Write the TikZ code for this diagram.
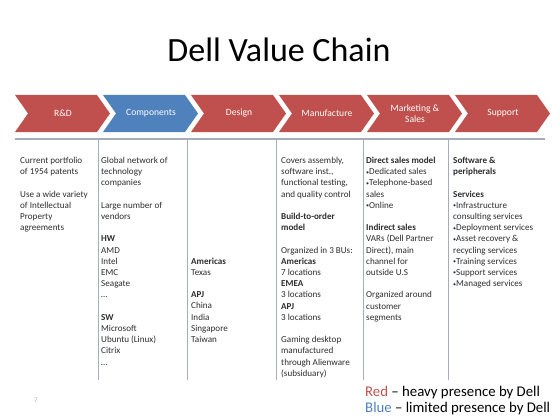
\documentclass[tikz,border=0pt]{standalone}
\usepackage{fontspec}
\setmainfont{Carlito}
\usepackage{xcolor}
\usetikzlibrary{positioning}

\definecolor{dellred}{RGB}{192,80,77}
\definecolor{dellblue}{RGB}{79,129,189}
\definecolor{sepgray}{RGB}{165,172,186}
\definecolor{txtgray}{RGB}{45,45,45}
\newcommand{\bul}{{\fontsize{6}{6}\selectfont\raisebox{.25ex}{•}}}

\tikzset{
  chev/.style={text=white, font=\fontsize{9.6}{11}\selectfont, align=center},
  colbox/.style={anchor=north west, inner sep=0pt, align=left, text=txtgray,
    font=\fontsize{9.1}{11.2}\selectfont},
  legend/.style={anchor=base west, inner sep=0pt, font=\fontsize{14.8}{16}\selectfont},
}

\begin{document}
\begin{tikzpicture}[x=1pt,y=-1pt]
\useasboundingbox (0,0) rectangle (560,420);

%titre
\node[anchor=base, font=\fontsize{34}{38}\selectfont] (title) at (279,62) {Dell Value Chain};

%fleches de la chaine
\foreach \i/\c/\t in {0/dellred/{R\&D}, 1/dellblue/{Components}, 2/dellred/{Design},
  3/dellred/{Manufacture}, 4/dellred/{Marketing \&\\Sales}, 5/dellred/{Support}} {
  \fill[\c] ({15+88*\i},95) -- ++(82,0) -- ++(13,18.5) -- ++(-13,18.5) -- ++(-82,0) -- ++(13,-18.5) -- cycle;
  \node[chev] (ch\i) at ({63+88*\i},113.5) {\t};
}

%lignes du tableau
\draw[sepgray, line width=1.5pt] (15,139) -- (545,139);
\foreach \x in {98,187,276,363,448}
  \draw[sepgray, line width=1pt] (\x,139) -- (\x,380);

%colonnes
\node[colbox] (rd) at (20,157) {Current portfolio\\of 1954 patents\\[11.2pt]Use a wide variety\\of Intellectual\\Property\\agreements};

\node[colbox] (comp) at (101,157) {Global network of\\technology\\companies\\[11.2pt]Large number of\\vendors\\[11.2pt]\textbf{HW}\\AMD\\Intel\\EMC\\Seagate\\…\\[11.2pt]\textbf{SW}\\Microsoft\\Ubuntu (Linux)\\Citrix\\…};

\node[colbox] (design) at (191,257.5) {\textbf{Americas}\\Texas\\[11.2pt]\textbf{APJ}\\China\\India\\Singapore\\Taiwan};

\node[colbox] (manuf) at (281,157) {Covers assembly,\\software inst.,\\functional testing,\\and quality control\\[11.2pt]\textbf{Build-to-order}\\\textbf{model}\\[11.2pt]Organized in 3 BUs:\\\textbf{Americas}\\7 locations\\\textbf{EMEA}\\3 locations\\\textbf{APJ}\\3 locations\\[11.2pt]Gaming desktop\\manufactured\\through Alienware\\(subsiduary)};

\node[colbox] (market) at (366,157) {\textbf{Direct sales model}\\\bul Dedicated sales\\\bul Telephone-based\\sales\\\bul Online\\[11.2pt]\textbf{Indirect sales}\\VARs (Dell Partner\\Direct), main\\channel for\\outside U.S\\[11.2pt]Organized around\\customer\\segments};

\node[colbox] (support) at (453,157) {\textbf{Software \&}\\\textbf{peripherals}\\[11.2pt]\textbf{Services}\\\bul Infrastructure\\consulting services\\\bul Deployment services\\\bul Asset recovery \&\\recycling services\\\bul Training services\\\bul Support services\\\bul Managed services};

%legende
\node[legend] (legred) at (365,396) {\textcolor{dellred}{Red} -- heavy presence by Dell};
\node[legend] (legblue) at (365,412) {\textcolor{dellblue}{Blue} -- limited presence by Dell};

%numero de page
\node[text=gray!60, font=\fontsize{7}{8}\selectfont] (page) at (36,400) {7};

\end{tikzpicture}
\end{document}
